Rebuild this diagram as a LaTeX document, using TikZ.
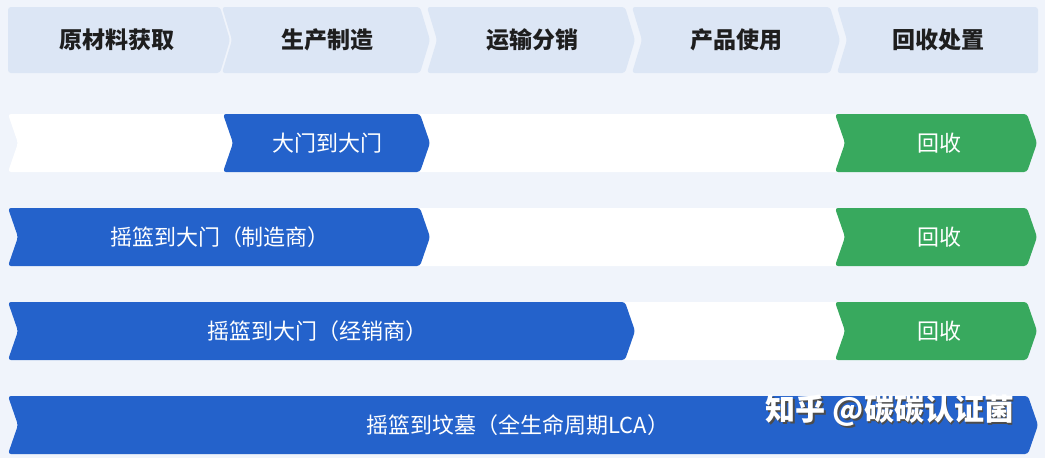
\documentclass[tikz,border=0pt]{standalone}
\usepackage{fontspec}
\newfontfamily\cjk{Noto Sans CJK SC}
\usepackage{tikz}

\definecolor{pagebg}{HTML}{F0F4FB}
\definecolor{headbg}{HTML}{DCE6F5}
\definecolor{headtxt}{HTML}{1E1E1E}
\definecolor{lcablue}{HTML}{2462CB}
\definecolor{recgreen}{HTML}{38A95E}

\tikzstyle{headtext}=[font=\cjk\bfseries\fontsize{23}{27}\selectfont,text=headtxt]
\tikzstyle{bartext}=[font=\cjk\fontsize{22}{26}\selectfont,text=white]
\tikzstyle{marktext}=[font=\cjk\bfseries\fontsize{30}{34}\selectfont]

% chevron bar: style, left x, right x, top y, bottom y
\newcommand{\chev}[5]{%
  \fill[#1,rounded corners=3] (#2,#4) -- (#3,#4) -- ({#3+10},{(#4+#5)/2})
       -- (#3,#5) -- (#2,#5) -- ({#2+10},{(#4+#5)/2}) -- cycle;}

\begin{document}
\begin{tikzpicture}[x=1pt,y=-1pt]

\fill[pagebg] (0,0) rectangle (1045,458);
\useasboundingbox (0,0) rectangle (1045,458);

% stage header
\fill[headbg,rounded corners=3] (8,7) -- (220,7) -- (230,40) -- (220,73) -- (8,73) -- cycle;
\foreach \xl in {222,427,632}
  \chev{headbg}{\xl}{\xl+198}{7}{73};
\fill[headbg,rounded corners=3] (837,7) -- (1038,7) -- (1038,73) -- (837,73) -- (847,40) -- cycle;

\node[headtext] (s1) at (117,40) {原材料获取};
\node[headtext] (s2) at (327,40) {生产制造};
\node[headtext] (s3) at (532,40) {运输分销};
\node[headtext] (s4) at (736,40) {产品使用};
\node[headtext] (s5) at (938,40) {回收处置};

% white tracks
\foreach \yt in {114,208,302}
  \chev{white}{8}{1026}{\yt}{\yt+58};

% system boundaries
\chev{lcablue}{223}{420}{114}{172};
\chev{lcablue}{8}{420}{208}{266};
\chev{lcablue}{8}{625}{302}{360};
\chev{lcablue}{8}{1028}{396}{454};
\foreach \yt in {114,208,302}
  \chev{recgreen}{835}{1027}{\yt}{\yt+58};

\node[bartext] (g2g) at (327,143) {大门到大门};
\node[bartext] (c2gm) at (220,237) {摇篮到大门（制造商）};
\node[bartext] (c2gd) at (317,331) {摇篮到大门（经销商）};
\node[bartext] (c2g) at (518,425) {摇篮到坟墓（全生命周期LCA）};
\node[bartext] (r1) at (939,143) {回收};
\node[bartext] (r2) at (939,237) {回收};
\node[bartext] (r3) at (939,331) {回收};

% watermark
\node[marktext,text=black!70] at (891.5,412.5) {知乎 @碳碳认证菌};
\node[marktext,text=white] (mark) at (890,411) {知乎 @碳碳认证菌};

\end{tikzpicture}
\end{document}
